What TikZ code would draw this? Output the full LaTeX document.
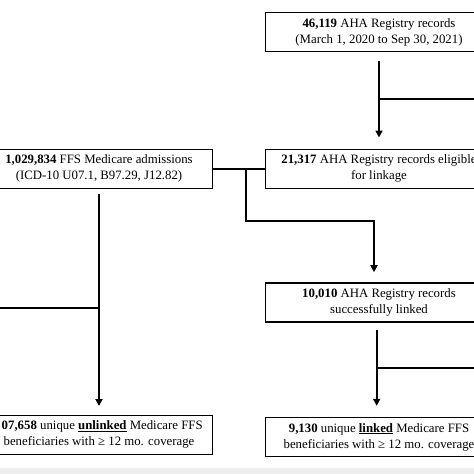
\documentclass[tikz,border=0pt]{standalone}
\usepackage{fontspec}
\setmainfont{Liberation Serif}
\usetikzlibrary{arrows.meta}
\begin{document}
\begin{tikzpicture}[x=1pt,y=-1pt,every text node part/.style={align=center},
	box/.style={draw,line width=1.6pt,minimum width=227pt,minimum height=39pt,inner sep=0pt,font=\fontsize{12.8}{16}\selectfont},
	link/.style={line width=2pt},
	arr/.style={link,-{Triangle[width=7pt,length=7pt]}}]
		\useasboundingbox (0,0) rectangle (474,474);
		\clip (0,0) rectangle (474,474);
		\fill[gray!13] (0,468) rectangle (474,474);
		%registry side
		\node[box] (aha) at (379,32) {\textbf{46,119} AHA Registry records\\(March 1, 2020 to Sep 30, 2021)};
		\node[box] (elig) at (379,168.8) {\textbf{21,317} AHA Registry records eligible\\for linkage};
		\node[box] (lnk) at (379,302.5) {\textbf{10,010} AHA Registry records\\successfully linked};
		\node[box] (fin) at (379,437.1) {\textbf{9,130} unique \underline{\textbf{linked}} Medicare FFS\\beneficiaries with ≥ 12 mo. coverage};
		%medicare side
		\node[box] (ffs) at (99,168.8) {\textbf{1,029,834} FFS Medicare admissions\\(ICD-10 U07.1, B97.29, J12.82)};
		\node[box] (unl) at (99,434.8) {\textbf{\phantom{0}07,658} unique \underline{\textbf{unlinked}} Medicare FFS\\beneficiaries with ≥ 12 mo. coverage};
		
		%links
		\coordinate (cut1) at (480,99.3);
		\coordinate (cut3) at (-6,307.7);
		\coordinate (cut4) at (480,368.3);
		\coordinate (j2) at (374,220.7);
		\draw[arr] ([yshift=-9pt]aha.south) -- ([yshift=11pt]elig.north);
		\draw[link] (aha.south |- cut1) -- (cut1);
		\draw[link] (ffs.east) -- (elig.west) coordinate[pos=0.64] (j1);
		\draw[arr] (j1) |- (j2) -- ([yshift=10pt]lnk.north -| j2);
		\draw[arr] ([yshift=-5pt]ffs.south) -- ([yshift=8.5pt]unl.north);
		\draw[link] (ffs.south |- cut3) -- (cut3);
		\draw[arr] ([xshift=-2.3pt,yshift=-7.5pt]lnk.south) -- ([xshift=-2.3pt,yshift=11pt]fin.north);
		\draw[link] ([xshift=-2.3pt]lnk.south |- cut4) -- (cut4);
		
		\end{tikzpicture}
\end{document}
